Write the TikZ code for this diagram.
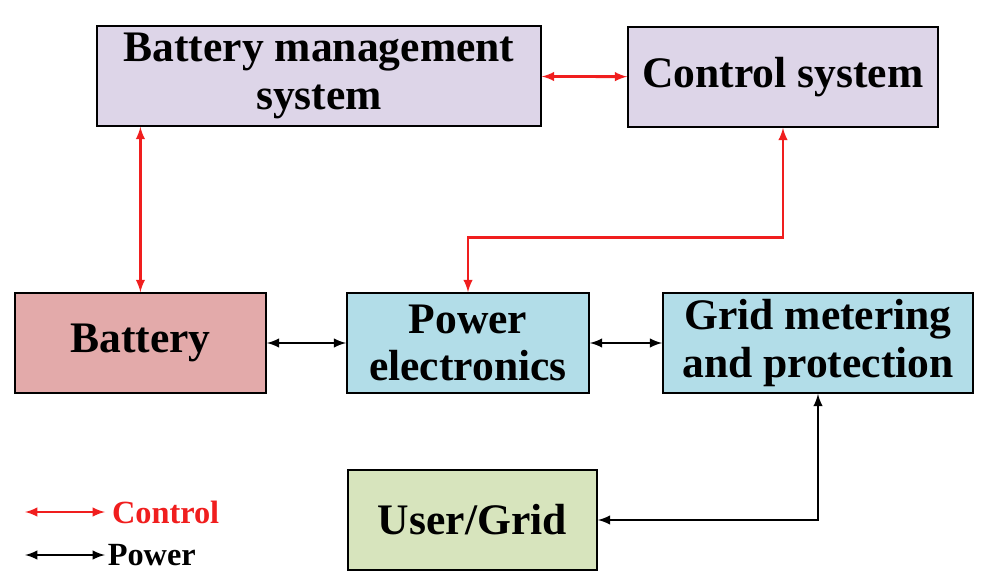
\documentclass[tikz,border=0pt]{standalone}
\usepackage{fontspec}
\setmainfont{Liberation Serif}
\usetikzlibrary{positioning}
\definecolor{lavender}{RGB}{221,213,232}
\definecolor{pinkish}{RGB}{227,170,170}
\definecolor{lightblu}{RGB}{178,221,232}
\definecolor{lightgrn}{RGB}{215,228,189}
\definecolor{ctrlred}{RGB}{240,30,30}
\begin{document}
\begin{tikzpicture}
		\tikzstyle {block} = [draw, line width=1.2pt, minimum height=2.5cm, align=center, inner sep=2pt, font=\fontsize{31}{34}\selectfont\bfseries]
		\tikzstyle {control} = [line width=2pt, ctrlred, <->, >=latex]
		\tikzstyle {power} = [line width=2pt, black, <->, >=latex]

		\useasboundingbox (0,0) rectangle (24.6,14.6);

		\node[block, fill=lavender, minimum width=11.1cm] (bms) at (7.975,12.7) {Battery management\\system};
		\node[block, fill=lavender, minimum width=7.75cm] (cs) at (19.575,12.675) {Control system};
		\node[block, fill=pinkish, minimum width=6.275cm] (bat) at (3.51,6.025) {Battery};
		\node[block, fill=lightblu, minimum width=6.05cm] (pe) at (11.7,6.025) {Power\\electronics};
		\node[block, fill=lightblu, minimum width=7.75cm] (grid) at (20.45,6.025) {Grid metering\\and protection};
		\node[block, fill=lightgrn, minimum width=6.225cm] (user) at (11.81,1.6) {User/Grid};

		\draw[control] (bms) -- (cs);
		\draw[control] (bms.south -| bat.north) -- (bat.north);
		\draw[control] (cs.south) -- ++(0,-2.75) -| (pe.north);
		\draw[power] (bat) -- (pe);
		\draw[power] (pe) -- (grid);
		\draw[power] (user.east) -- (user.east -| grid.south) -- (grid.south);

		% legend
		\coordinate (c1) at (0.625,1.8);
		\coordinate (c2) at (2.625,1.8);
		\coordinate (p1) at (0.625,0.725);
		\coordinate (p2) at (2.625,0.725);
		\draw[control] (c1) -- (c2) node[right, inner sep=4pt, font=\fontsize{23}{26}\selectfont\bfseries] (lc) {Control};
		\draw[power] (p1) -- (p2) node[right, inner sep=1pt, font=\fontsize{23}{26}\selectfont\bfseries] (lp) {Power};
\end{tikzpicture}
\end{document}
